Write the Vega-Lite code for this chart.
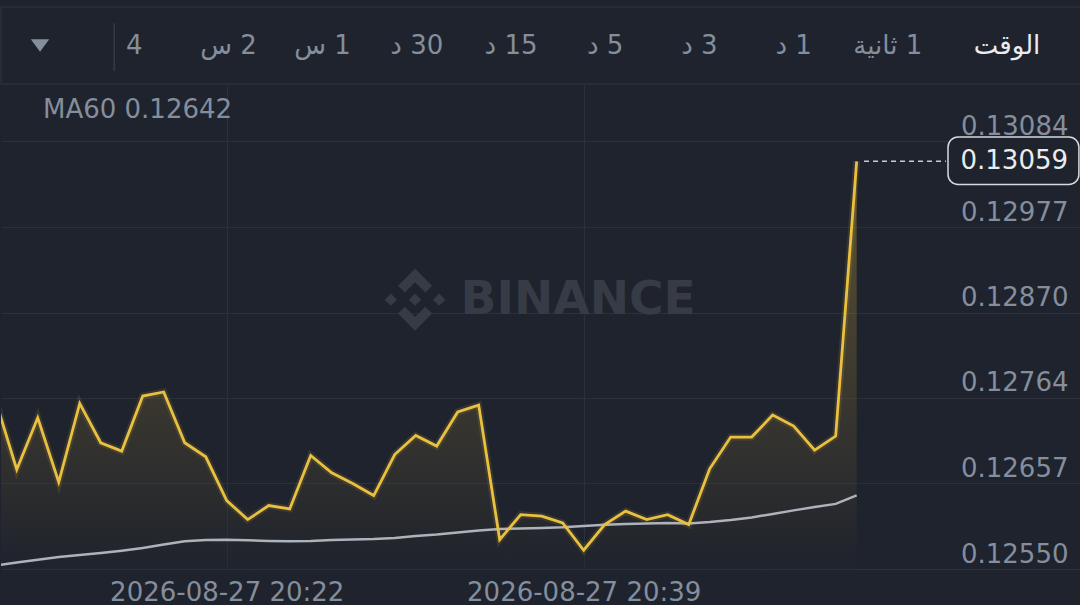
{
  "$schema": "https://vega.github.io/schema/vega-lite/v6.json",
  "background": "#1f232d",
  "padding": {"top": 6, "left": 0, "right": 0, "bottom": 0},
  "autosize": {"type": "pad"},
  "spacing": 0,
  "config": {
    "view": {"stroke": null},
    "font": "DejaVu Sans",
    "axis": {"labelFont": "DejaVu Sans", "labelFontSize": 26, "labelColor": "#848e9c", "gridColor": "#2b303b", "gridWidth": 1.2, "domain": false, "ticks": false, "tickSize": 0, "title": null}
  },
  "datasets": {
    "tabs": [
      {"tab": "▼", "kind": "menu", "active": false},
      {"tab": "4", "kind": "tab", "active": false},
      {"tab": "\u200f2 س", "kind": "tab", "active": false},
      {"tab": "\u200f1 س", "kind": "tab", "active": false},
      {"tab": "\u200f30 د", "kind": "tab", "active": false},
      {"tab": "\u200f15 د", "kind": "tab", "active": false},
      {"tab": "\u200f5 د", "kind": "tab", "active": false},
      {"tab": "\u200f3 د", "kind": "tab", "active": false},
      {"tab": "\u200f1 د", "kind": "tab", "active": false},
      {"tab": "\u200f1 ثانية", "kind": "tab", "active": false},
      {"tab": "الوقت", "kind": "tab", "active": true}
    ],
    "price": [
      {"t": "2026-08-27T20:11:00", "close": 0.127601, "ma60": 0.125544},
      {"t": "2026-08-27T20:12:00", "close": 0.126742, "ma60": 0.125580},
      {"t": "2026-08-27T20:13:00", "close": 0.127388, "ma60": 0.125616},
      {"t": "2026-08-27T20:14:00", "close": 0.126584, "ma60": 0.125650},
      {"t": "2026-08-27T20:15:00", "close": 0.127567, "ma60": 0.125675},
      {"t": "2026-08-27T20:16:00", "close": 0.127076, "ma60": 0.125700},
      {"t": "2026-08-27T20:17:00", "close": 0.126972, "ma60": 0.125729},
      {"t": "2026-08-27T20:18:00", "close": 0.127660, "ma60": 0.125763},
      {"t": "2026-08-27T20:19:00", "close": 0.127710, "ma60": 0.125806},
      {"t": "2026-08-27T20:20:00", "close": 0.127076, "ma60": 0.125846},
      {"t": "2026-08-27T20:21:00", "close": 0.126901, "ma60": 0.125863},
      {"t": "2026-08-27T20:22:00", "close": 0.126354, "ma60": 0.125866},
      {"t": "2026-08-27T20:23:00", "close": 0.126117, "ma60": 0.125859},
      {"t": "2026-08-27T20:24:00", "close": 0.126292, "ma60": 0.125850},
      {"t": "2026-08-27T20:25:00", "close": 0.126250, "ma60": 0.125846},
      {"t": "2026-08-27T20:26:00", "close": 0.126917, "ma60": 0.125850},
      {"t": "2026-08-27T20:27:00", "close": 0.126701, "ma60": 0.125863},
      {"t": "2026-08-27T20:28:00", "close": 0.126567, "ma60": 0.125869},
      {"t": "2026-08-27T20:29:00", "close": 0.126417, "ma60": 0.125875},
      {"t": "2026-08-27T20:30:00", "close": 0.126929, "ma60": 0.125888},
      {"t": "2026-08-27T20:31:00", "close": 0.127167, "ma60": 0.125913},
      {"t": "2026-08-27T20:32:00", "close": 0.127035, "ma60": 0.125931},
      {"t": "2026-08-27T20:33:00", "close": 0.127460, "ma60": 0.125956},
      {"t": "2026-08-27T20:34:00", "close": 0.127547, "ma60": 0.125981},
      {"t": "2026-08-27T20:35:00", "close": 0.125866, "ma60": 0.126000},
      {"t": "2026-08-27T20:36:00", "close": 0.126179, "ma60": 0.126006},
      {"t": "2026-08-27T20:37:00", "close": 0.126159, "ma60": 0.126013},
      {"t": "2026-08-27T20:38:00", "close": 0.126075, "ma60": 0.126021},
      {"t": "2026-08-27T20:39:00", "close": 0.125734, "ma60": 0.126038},
      {"t": "2026-08-27T20:40:00", "close": 0.126054, "ma60": 0.126054},
      {"t": "2026-08-27T20:41:00", "close": 0.126222, "ma60": 0.126063},
      {"t": "2026-08-27T20:42:00", "close": 0.126117, "ma60": 0.126069},
      {"t": "2026-08-27T20:43:00", "close": 0.126179, "ma60": 0.126075},
      {"t": "2026-08-27T20:44:00", "close": 0.126054, "ma60": 0.126069},
      {"t": "2026-08-27T20:45:00", "close": 0.126751, "ma60": 0.126088},
      {"t": "2026-08-27T20:46:00", "close": 0.127147, "ma60": 0.126113},
      {"t": "2026-08-27T20:47:00", "close": 0.127147, "ma60": 0.126144},
      {"t": "2026-08-27T20:48:00", "close": 0.127422, "ma60": 0.126188},
      {"t": "2026-08-27T20:49:00", "close": 0.127285, "ma60": 0.126232},
      {"t": "2026-08-27T20:50:00", "close": 0.126984, "ma60": 0.126275},
      {"t": "2026-08-27T20:51:00", "close": 0.127160, "ma60": 0.126313},
      {"t": "2026-08-27T20:52:00", "close": 0.130590, "ma60": 0.126420}
    ],
    "last": [
      {"t": "2026-08-27T20:52:00", "close": 0.13059, "label": "0.13059"}
    ],
    "ma": [
      {"label": "MA60 0.12642"}
    ],
    "brand": [
      {"label": "BINANCE"}
    ]
  },
  "vconcat": [
    {
      "width": 1080,
      "height": 77,
      "view": {"stroke": "#2b303b", "strokeWidth": 1.5},
      "data": {"name": "tabs"},
      "encoding": {
        "x": {
          "field": "tab", "type": "nominal", "sort": null, "axis": null,
          "scale": {"type": "band", "domain": ["▼", "4", "\u200f2 س", "\u200f1 س", "\u200f30 د", "\u200f15 د", "\u200f5 د", "\u200f3 د", "\u200f1 د", "\u200f1 ثانية", "الوقت"], "paddingInner": 0.575, "paddingOuter": 0.52, "align": 0.194}
        }
      },
      "layer": [
        {
          "transform": [{"filter": "datum.kind === 'tab' && !datum.active"}],
          "mark": {"type": "text", "fontSize": 26, "font": "DejaVu Sans", "baseline": "middle", "align": "center", "color": "#848e9c"},
          "encoding": {
            "text": {"field": "tab"}
          }
        },
        {
          "transform": [{"filter": "datum.active"}],
          "mark": {"type": "text", "fontSize": 26, "font": "DejaVu Sans", "baseline": "middle", "align": "center", "color": "#eaecef", "dx": 25},
          "encoding": {
            "text": {"field": "tab"}
          }
        },
        {
          "transform": [{"filter": "datum.kind === 'menu'"}],
          "mark": {"type": "point", "shape": "M-1,-0.67L1,-0.67L0,0.67Z", "filled": true, "size": 340, "color": "#848e9c", "opacity": 1}
        },
        {
          "transform": [{"filter": "datum.tab === '4'"}],
          "mark": {"type": "rule", "color": "#363b46", "strokeWidth": 1.5},
          "encoding": {
            "x": {"field": "tab", "type": "nominal", "bandPosition": 0},
            "y": {"datum": 0.17, "type": "quantitative", "scale": {"domain": [0, 1]}, "axis": null},
            "y2": {"datum": 0.79}
          }
        }
      ]
    },
    {
      "width": 1080,
      "height": 484,
      "layer": [
        {
          "data": {"name": "brand"},
          "mark": {"type": "text", "font": "DejaVu Sans", "fontWeight": "bold", "fontSize": 47, "color": "#363b46", "align": "center", "baseline": "middle"},
          "encoding": {
            "x": {"datum": {"year": 2026, "month": 8, "date": 27, "hours": 20, "minutes": 38, "seconds": 44}, "type": "temporal"},
            "y": {"datum": 0.128863, "type": "quantitative"},
            "text": {"field": "label"}
          }
        },
        {
          "data": {"name": "brand"},
          "mark": {"type": "point", "shape": "M0,-1L0.55,-0.45L0.33,-0.23L0,-0.56L-0.33,-0.23L-0.55,-0.45Z M0,1L0.55,0.45L0.33,0.23L0,0.56L-0.33,0.23L-0.55,0.45Z M0,-0.2L0.2,0L0,0.2L-0.2,0Z M-0.78,-0.2L-0.58,0L-0.78,0.2L-0.98,0Z M0.78,-0.2L0.98,0L0.78,0.2L0.58,0Z", "filled": true, "size": 3844, "color": "#363b46", "opacity": 1},
          "encoding": {
            "x": {"datum": {"year": 2026, "month": 8, "date": 27, "hours": 20, "minutes": 30, "seconds": 58}, "type": "temporal"},
            "y": {"datum": 0.128863, "type": "quantitative"}
          }
        },
        {
          "data": {"name": "price"},
          "mark": {"type": "area", "clip": true, "fillOpacity": 0.3, "color": {"gradient": "linear", "x1": 0, "y1": 0, "x2": 0, "y2": 1, "stops": [{"offset": 0, "color": "#f0c03a"}, {"offset": 1, "color": "#1f232d"}]}},
          "encoding": {
            "x": {
              "field": "t", "type": "temporal",
              "scale": {"domain": [{"year": 2026, "month": 8, "date": 27, "hours": 20, "minutes": 11, "seconds": 15}, {"year": 2026, "month": 8, "date": 27, "hours": 21, "minutes": 2, "seconds": 41}]},
              "axis": {
                "values": [{"year": 2026, "month": 8, "date": 27, "hours": 20, "minutes": 22}, {"year": 2026, "month": 8, "date": 27, "hours": 20, "minutes": 39}],
                "format": "%Y-%m-%d %H:%M", "grid": true, "labelFlush": false, "labelPadding": 10, "labelOverlap": false, "labelLimit": 0
              }
            },
            "y": {
              "field": "close", "type": "quantitative",
              "scale": {"domain": [0.1255, 0.131543], "nice": false, "zero": false},
              "axis": {
                "orient": "right", "values": [0.1255, 0.12657, 0.12764, 0.1287, 0.12977, 0.13084], "format": ".5f",
                "grid": true, "labelAlign": "right", "labelPadding": -13, "labelOffset": -15, "labelBaseline": "middle", "labelLimit": 0
              }
            },
            "y2": {"datum": 0.1255}
          }
        },
        {
          "data": {"name": "price"},
          "mark": {"type": "line", "clip": true, "color": "#aeb2bb", "strokeWidth": 2.5},
          "encoding": {
            "x": {"field": "t", "type": "temporal"},
            "y": {"field": "ma60", "type": "quantitative"}
          }
        },
        {
          "data": {"name": "price"},
          "mark": {"type": "line", "clip": true, "color": "#e9c03f", "strokeWidth": 7, "opacity": 0.12},
          "encoding": {
            "x": {"field": "t", "type": "temporal"},
            "y": {"field": "close", "type": "quantitative"}
          }
        },
        {
          "data": {"name": "price"},
          "mark": {"type": "line", "clip": true, "color": "#e9c03f", "strokeWidth": 2.8},
          "encoding": {
            "x": {"field": "t", "type": "temporal"},
            "y": {"field": "close", "type": "quantitative"}
          }
        },
        {
          "data": {"name": "last"},
          "mark": {"type": "rule", "color": "#c8ccd3", "strokeWidth": 1.5, "strokeDash": [5, 4]},
          "encoding": {
            "x": {"datum": {"year": 2026, "month": 8, "date": 27, "hours": 20, "minutes": 52, "seconds": 21}, "type": "temporal"},
            "x2": {"datum": {"year": 2026, "month": 8, "date": 27, "hours": 20, "minutes": 56, "seconds": 15}},
            "y": {"field": "close", "type": "quantitative"}
          }
        },
        {
          "data": {"name": "last"},
          "mark": {"type": "rect", "fill": "#1f232d", "stroke": "#d6d9de", "strokeWidth": 1.5, "cornerRadius": 10},
          "encoding": {
            "x": {"datum": {"year": 2026, "month": 8, "date": 27, "hours": 20, "minutes": 56, "seconds": 21}, "type": "temporal"},
            "x2": {"datum": {"year": 2026, "month": 8, "date": 27, "hours": 21, "minutes": 2, "seconds": 35}},
            "y": {"datum": 0.130893, "type": "quantitative"},
            "y2": {"datum": 0.130302}
          }
        },
        {
          "data": {"name": "last"},
          "mark": {"type": "text", "fontSize": 26, "font": "DejaVu Sans", "color": "#eaecef", "align": "right", "baseline": "middle"},
          "encoding": {
            "x": {"datum": {"year": 2026, "month": 8, "date": 27, "hours": 21, "minutes": 2, "seconds": 4}, "type": "temporal"},
            "y": {"field": "close", "type": "quantitative"},
            "text": {"field": "label"}
          }
        },
        {
          "data": {"name": "ma"},
          "mark": {"type": "text", "fontSize": 26, "font": "DejaVu Sans", "color": "#848e9c", "align": "left", "baseline": "middle"},
          "encoding": {
            "x": {"datum": {"year": 2026, "month": 8, "date": 27, "hours": 20, "minutes": 13, "seconds": 15}, "type": "temporal"},
            "y": {"datum": 0.131231, "type": "quantitative"},
            "text": {"field": "label"}
          }
        }
      ]
    }
  ]
}
